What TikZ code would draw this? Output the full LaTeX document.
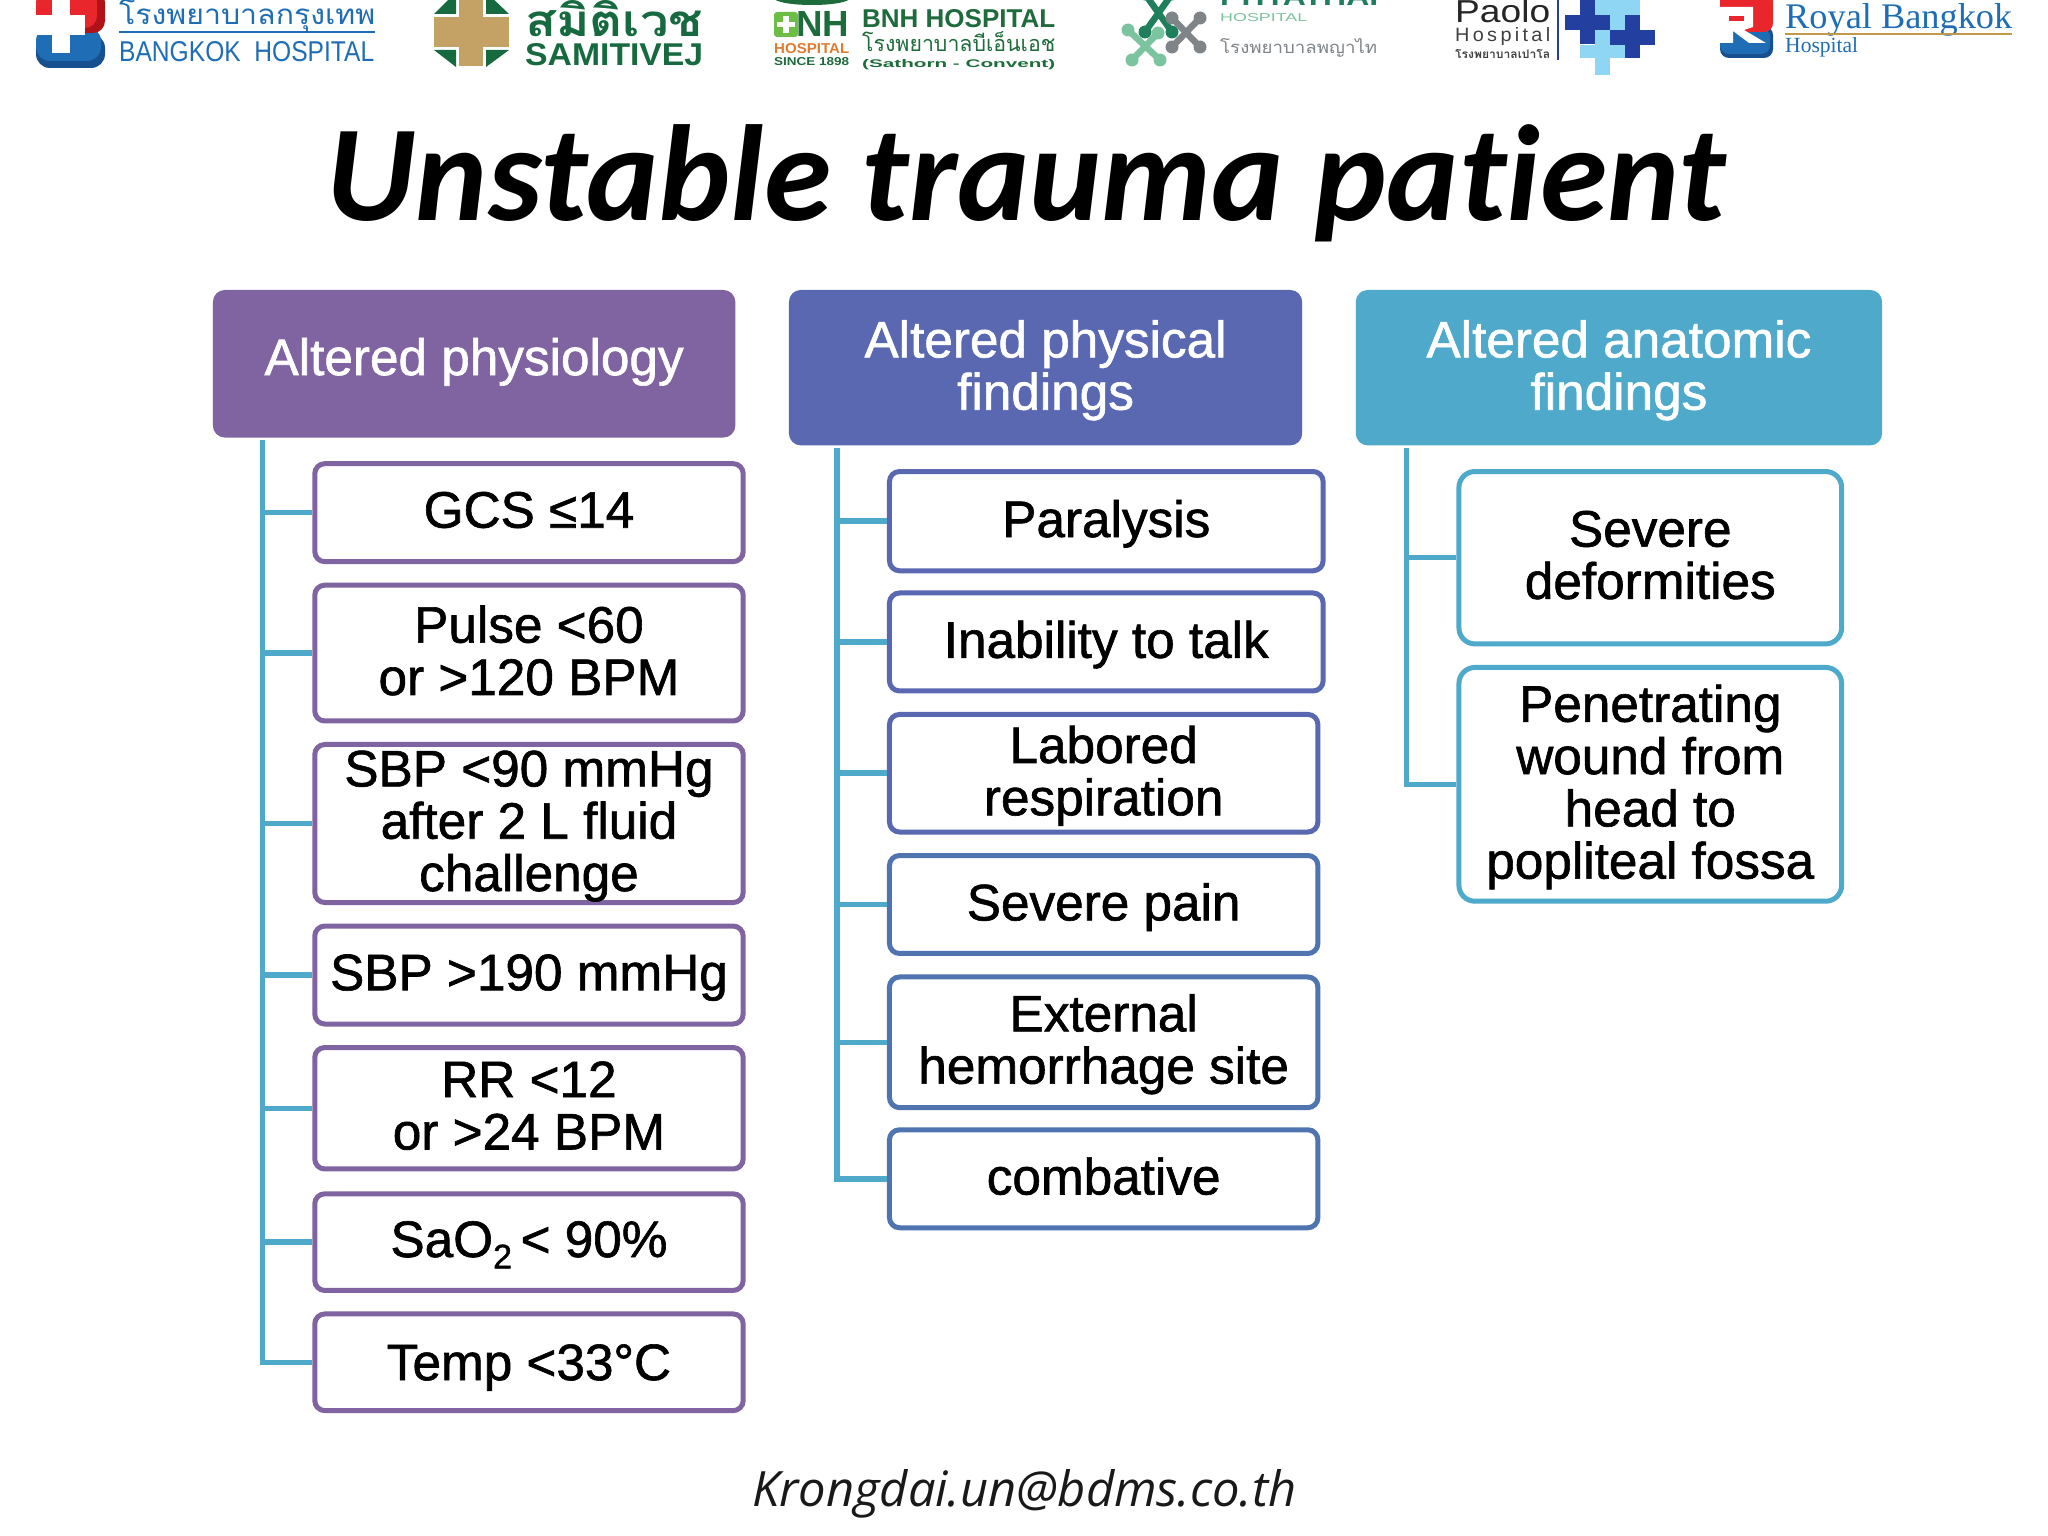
\documentclass[tikz,border=0pt]{standalone}
\usepackage{fontspec}
\usepackage{graphicx}
\setmainfont{Liberation Sans}
\newfontfamily\bodyfam[FakeBold=1.2]{Liberation Sans}
\newfontfamily\thaifont[Script=Thai]{Loma}
\newfontfamily\titlefont{Carlito}
\newfontfamily\handfont{Open Sans}
\newfontfamily\serifont{Liberation Serif}
\newlength\uu \setlength\uu{1.30612pt}
\definecolor{pur}{HTML}{7F64A1}
\definecolor{blu}{HTML}{5A68B2}
\definecolor{blb}{HTML}{4F74B0}
\definecolor{tea}{HTML}{4FA9CB}
\definecolor{bkblue}{HTML}{1F6DB5}
\definecolor{bkdeep}{HTML}{17508F}
\definecolor{bkred}{HTML}{E8262C}
\definecolor{bkdred}{HTML}{B01218}
\definecolor{smgreen}{HTML}{17693F}
\definecolor{smtan}{HTML}{C4A266}
\definecolor{bngreen}{HTML}{1E6B3C}
\definecolor{bnlime}{HTML}{6DBE45}
\definecolor{bnor}{HTML}{E07B2E}
\definecolor{pygreen}{HTML}{1F7F5C}
\definecolor{pylight}{HTML}{7CC4A0}
\definecolor{pygrey}{HTML}{7F8488}
\definecolor{padark}{HTML}{2340A0}
\definecolor{palight}{HTML}{8FD6F5}
\definecolor{rygold}{HTML}{C09A4A}
\newcommand\bodyfont{\bodyfam\fontsize{51.3}{52.3}\selectfont}
% name, x, baseline y, width, colour, height, text  (full-size pixels)
\newcommand\logotext[7]{\node[logolabel,text=#5] (#1) at (#2,#3) {\resizebox{#4pt}{#6pt}{#7}};}
% [text shift]{name}{box style}{text}{x1}{x2}{y1}{y2}
\newcommand\itemnode[8][0]{\node[#3,minimum width=#6\uu-#5\uu,minimum height=#8\uu-#7\uu] (#2) at ({(#5+#6)/2},{(#7+#8)/2}) {};
  \node[boxtext] (#2t) at ({(#5+#6)/2},{(#7+#8)/2+#1}) {#4};}
\newcommand\headnode[8][0]{\node[#3,minimum width=#6\uu-#5\uu,minimum height=#8\uu-#7\uu] (#2) at ({(#5+#6)/2},{(#7+#8)/2}) {};
  \node[boxtext,text=white] (#2t) at ({(#5+#6)/2},{(#7+#8)/2+#1}) {#4};}
\newcommand\xlogo[5]{% colour, four ends
  \draw[xarm,draw=#1] #2 -- #4 #3 -- #5;
  \foreach \pt in {#2,#3,#4,#5} \fill[#1] \pt circle (6.5pt);}
\tikzset{
  x=1.30612pt,y=-1.30612pt,
  logolabel/.style={anchor=base west,inner sep=0pt},
  boxtext/.style={text=black,align=center,inner sep=0pt,font=\bodyfont},
  headbox/.style={rounded corners=12pt,inner sep=0pt},
  itembox/.style={draw,line width=5pt,rounded corners=10pt,fill=white,inner sep=0pt},
  itemp/.style={itembox,draw=pur},
  itemb/.style={itembox,draw=blu},
  itemc/.style={itembox,draw=blb},
  itemt/.style={itembox,draw=tea,rounded corners=16pt},
  link/.style={draw=tea,line width=5.5pt},
  xarm/.style={line width=6.5pt},
}
\begin{document}
\begin{tikzpicture}
\useasboundingbox (0,0) rectangle (1568,1176);
\clip (0,0) rectangle (1568,1176);
\fill[white] (0,0) rectangle (1568,1176);

% --- logos, in full-size pixels ---
\begin{scope}[x=1pt,y=-1pt]
% Bangkok Hospital
\fill[bkdeep,rounded corners=14pt] (36,34) rectangle (105,68);
\fill[bkblue,rounded corners=14pt] (36,27) rectangle (101,61);
\fill[bkdred,rounded corners=12pt] (60,-10) rectangle (105,33);
\fill[bkred,rounded corners=12pt] (36,-10) rectangle (97,28);
\fill[white] (52,-2) rectangle (70,53);
\fill[white] (36,15) rectangle (85,35);
\logotext{l1}{119}{25}{256}{bkblue}{25}{\thaifont โรงพยาบาลกรุงเทพ}
\draw[bkblue,line width=2.5pt] (119,32) -- (375,32);
\logotext{l2}{119}{61}{255}{bkblue}{20}{BANGKOK\ \ HOSPITAL}
% Samitivej
\fill[smgreen] (434,14) -- (456,-8) -- (456,14) -- cycle;
\fill[smgreen] (509,14) -- (486,-8) -- (486,14) -- cycle;
\fill[smgreen] (434,50) -- (456,67) -- (456,50) -- cycle;
\fill[smgreen] (509,50) -- (486,67) -- (486,50) -- cycle;
\fill[smtan] (459,-2) rectangle (483,66);
\fill[smtan] (434,17) rectangle (509,47);
\logotext{l3}{525}{37}{178}{smgreen}{36}{\thaifont\bfseries สมิติเวช}
\logotext{l4}{525}{66}{178}{smgreen}{22}{\bfseries SAMITIVEJ}
% BNH
\fill[bngreen] (812,-2) ellipse [x radius=38pt,y radius=7pt];
\logotext{l5}{796}{37}{53}{bngreen}{25}{\bfseries NH}
\fill[bnlime,rounded corners=3pt] (774,12) rectangle (798,37);
\fill[white] (783,16) rectangle (789,33);
\fill[white] (777,22) rectangle (795,27);
\logotext{l6}{774}{53}{75}{bnor}{10}{\bfseries HOSPITAL}
\logotext{l7}{774}{66}{75}{bngreen}{8}{\bfseries SINCE 1898}
\logotext{l8}{862}{28}{193}{bngreen}{18}{\bfseries BNH HOSPITAL}
\logotext{l9}{862}{52}{193}{bngreen}{20}{\thaifont โรงพยาบาลบีเอ็นเอช}
\logotext{l10}{862}{67}{193}{bngreen}{8}{\bfseries (Sathorn - Convent)}
% Phyathai
\xlogo{pygreen}{(1145,-6)}{(1172,-6)}{(1172,32)}{(1145,32)}
\xlogo{pygrey}{(1172,18)}{(1200,18)}{(1200,47)}{(1172,47)}
\xlogo{pylight}{(1128,30)}{(1158,33)}{(1160,60)}{(1132,60)}
\logotext{l11}{1220}{6}{158}{pygreen}{18}{\bfseries PHYATHAI}
\logotext{l12}{1220}{22}{87}{pylight}{8}{HOSPITAL}
\logotext{l13}{1220}{53}{157}{pygrey}{15}{\thaifont โรงพยาบาลพญาไท}
% Paolo
\logotext{l14}{1455}{23}{95}{black!85}{23}{Paolo}
\logotext{l15}{1455}{42}{95}{black!75}{14}{H\,o\,s\,p\,i\,t\,a\,l}
\logotext{l16}{1455}{59}{95}{black!75}{9}{\thaifont\bfseries โรงพยาบาลเปาโล}
\draw[padark,line width=2.5pt] (1558,-2) -- (1558,60);
\fill[palight] (1595,-2) rectangle (1640,15);
\fill[palight] (1610,15) rectangle (1625,30);
\fill[palight] (1595,30) rectangle (1610,75);
\fill[palight] (1580,45) rectangle (1625,58);
\fill[padark] (1580,-5) rectangle (1595,44);
\fill[padark] (1565,15) rectangle (1610,30);
\fill[padark] (1625,15) rectangle (1640,58);
\fill[padark] (1610,30) rectangle (1655,45);
% Royal Bangkok
\fill[bkdeep,rounded corners=9pt] (1720,26) rectangle (1773,58);
\fill[bkblue,rounded corners=9pt] (1720,28) rectangle (1770,54);
\fill[bkred,rounded corners=9pt] (1720,-8) rectangle (1773,32);
\fill[white] (1720,7) -- (1753,7) -- (1753,27) -- (1744,30) -- (1766,43) -- (1749,43) -- (1733,31) -- (1733,43) -- (1720,43) -- cycle;
\fill[bkred] (1729,16) rectangle (1744,21);
\logotext{l17}{1785}{29}{227}{bkblue}{25}{\serifont Royal Bangkok}
\draw[rygold,line width=2pt] (1785,34) -- (2012,34);
\logotext{l18}{1785}{53}{73}{bkblue}{15}{\serifont Hospital}
\end{scope}

% --- title ---
\node[anchor=base west,inner sep=0pt] (title) at (250,169) {\fontsize{136.7}{137}\titlefont\bfseries\itshape Unstable trauma pat\kern0pt ient};

% --- headers ---
\headnode[-1.5]{hp}{headbox,fill=pur}{Altered physiology}{163}{563}{222}{335}
\headnode[2]{hb}{headbox,fill=blu}{Altered physical\\findings}{604}{997}{222}{341}
\headnode[2]{ht}{headbox,fill=tea}{Altered anatomic\\findings}{1038}{1441}{222}{341}

% --- column 1 ---
\itemnode[-2]{a1}{itemp}{GCS ≤14}{241}{569}{355}{430}
\itemnode[-2]{a2}{itemp}{Pulse <60\\or >120 BPM}{241}{569}{448}{552}
\itemnode[2]{a3}{itemp}{SBP <90 mmHg\\after 2 L fluid\\challenge}{241}{569}{570}{691}
\itemnode[2]{a4}{itemp}{SBP >190 mmHg}{241}{569}{709}{784}
\itemnode[-2]{a5}{itemp}{RR <12\\or >24 BPM}{241}{569}{802}{895}
\itemnode[2]{a6}{itemp}{SaO\raisebox{-.22em}{\fontsize{34}{34}\selectfont 2}\,< 90\%}{241}{569}{914}{988}
\itemnode[4]{a7}{itemp}{Temp <33°C}{241}{569}{1006}{1080}

% --- column 2 ---
\itemnode[2]{b1}{itemb}{Paralysis}{681}{1013}{361}{437}
\itemnode[2]{b2}{itemb}{Inability to talk}{681}{1013}{454}{529}
\itemnode[2]{b3}{itemb}{Labored\\respiration}{681}{1009}{547}{637}
\itemnode[2]{b4}{itemc}{Severe pain}{681}{1009}{655}{730}
\itemnode[1.5]{b5}{itemc}{External\\hemorrhage site}{681}{1009}{748}{848}
\itemnode[-2]{b6}{itemc}{combative}{681}{1009}{865}{940}

% --- column 3 ---
\itemnode[-2]{c1}{itemt}{Severe\\deformities}{1117}{1410}{361}{493}
\itemnode[2]{c2}{itemt}{Penetrating\\wound from\\head to\\popliteal fossa}{1117}{1410}{511}{690}

% --- connectors ---
\coordinate (ta) at (201,337);
\coordinate (tb) at (641,343);
\coordinate (tc) at (1077,343);
\draw[link] (ta) |- (a7.west);
\foreach \n in {a1,a2,a3,a4,a5,a6} \draw[link] (ta |- \n.west) -- (\n.west);
\draw[link] (tb) |- (b6.west);
\foreach \n in {b1,b2,b3,b4,b5} \draw[link] (tb |- \n.west) -- (\n.west);
\draw[link] (tc) |- (c2.west);
\draw[link] (tc |- c1.west) -- (c1.west);

% --- footer ---
\begin{scope}[x=1pt,y=-1pt]
\logotext{mail}{752}{1506}{544}{black!90}{37}{\handfont\itshape Krongdai.un@bdms.co.th}
\end{scope}
\end{tikzpicture}
\end{document}
